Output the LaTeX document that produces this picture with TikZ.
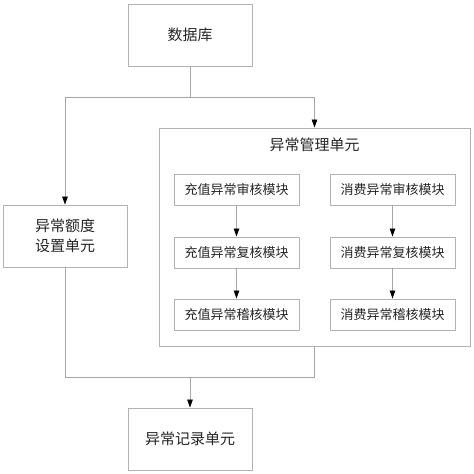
\documentclass[tikz,border=0pt]{standalone}
\usepackage{fontspec}
\setmainfont{Noto Sans CJK SC}
\usetikzlibrary{arrows.meta}
\tikzset{
  box/.style={draw=gray!60, line width=0.9pt, rectangle, inner sep=0pt, align=center, text=black!85},
  bigbox/.style={box, minimum width=124pt, minimum height=62pt, font=\fontsize{15}{20}\selectfont},
  modbox/.style={box, minimum width=125pt, minimum height=31pt, font=\fontsize{13}{16}\selectfont},
  conn/.style={draw=gray!70, line width=0.8pt},
  arr/.style={conn, -{Triangle[length=8pt, width=5.5pt, black]}},
}
\begin{document}
\begin{tikzpicture}[x=1pt,y=1pt]
\useasboundingbox (0,0) rectangle (474,-474);
\fill[white] (0,0) rectangle (474,-474);
\node[bigbox] (db) at (190,-35) {数据库};
\node[box, minimum width=311pt, minimum height=218pt] (mgmt) at (314.5,-237) {};
\node[font=\fontsize{15}{18}\selectfont, text=black!85] (title) at (314.5,-145) {异常管理单元};
\node[bigbox] (lim) at (65,-236) {异常额度\\设置单元};
\node[modbox] (c1) at (236.5,-189.5) {充值异常审核模块};
\node[modbox] (c2) at (236.5,-252.5) {充值异常复核模块};
\node[modbox] (c3) at (236.5,-314.5) {充值异常稽核模块};
\node[modbox] (x1) at (392.5,-189.5) {消费异常审核模块};
\node[modbox] (x2) at (392.5,-252.5) {消费异常复核模块};
\node[modbox] (x3) at (392.5,-314.5) {消费异常稽核模块};
\node[bigbox] (rec) at (190,-439) {异常记录单元};
\coordinate (j1) at (190,-97);
\coordinate (j2) at (190,-377);
\draw[conn] (db.south) -- (j1);
\draw[arr] (j1) -| (lim.north);
\draw[arr] (j1) -| (mgmt.north);
\draw[arr] (c1) -- (c2);
\draw[arr] (c2) -- (c3);
\draw[arr] (x1) -- (x2);
\draw[arr] (x2) -- (x3);
\draw[conn] (lim.south) |- (j2);
\draw[conn] (mgmt.south) |- (j2);
\draw[arr] (j2) -- (rec.north);
\end{tikzpicture}
\end{document}
